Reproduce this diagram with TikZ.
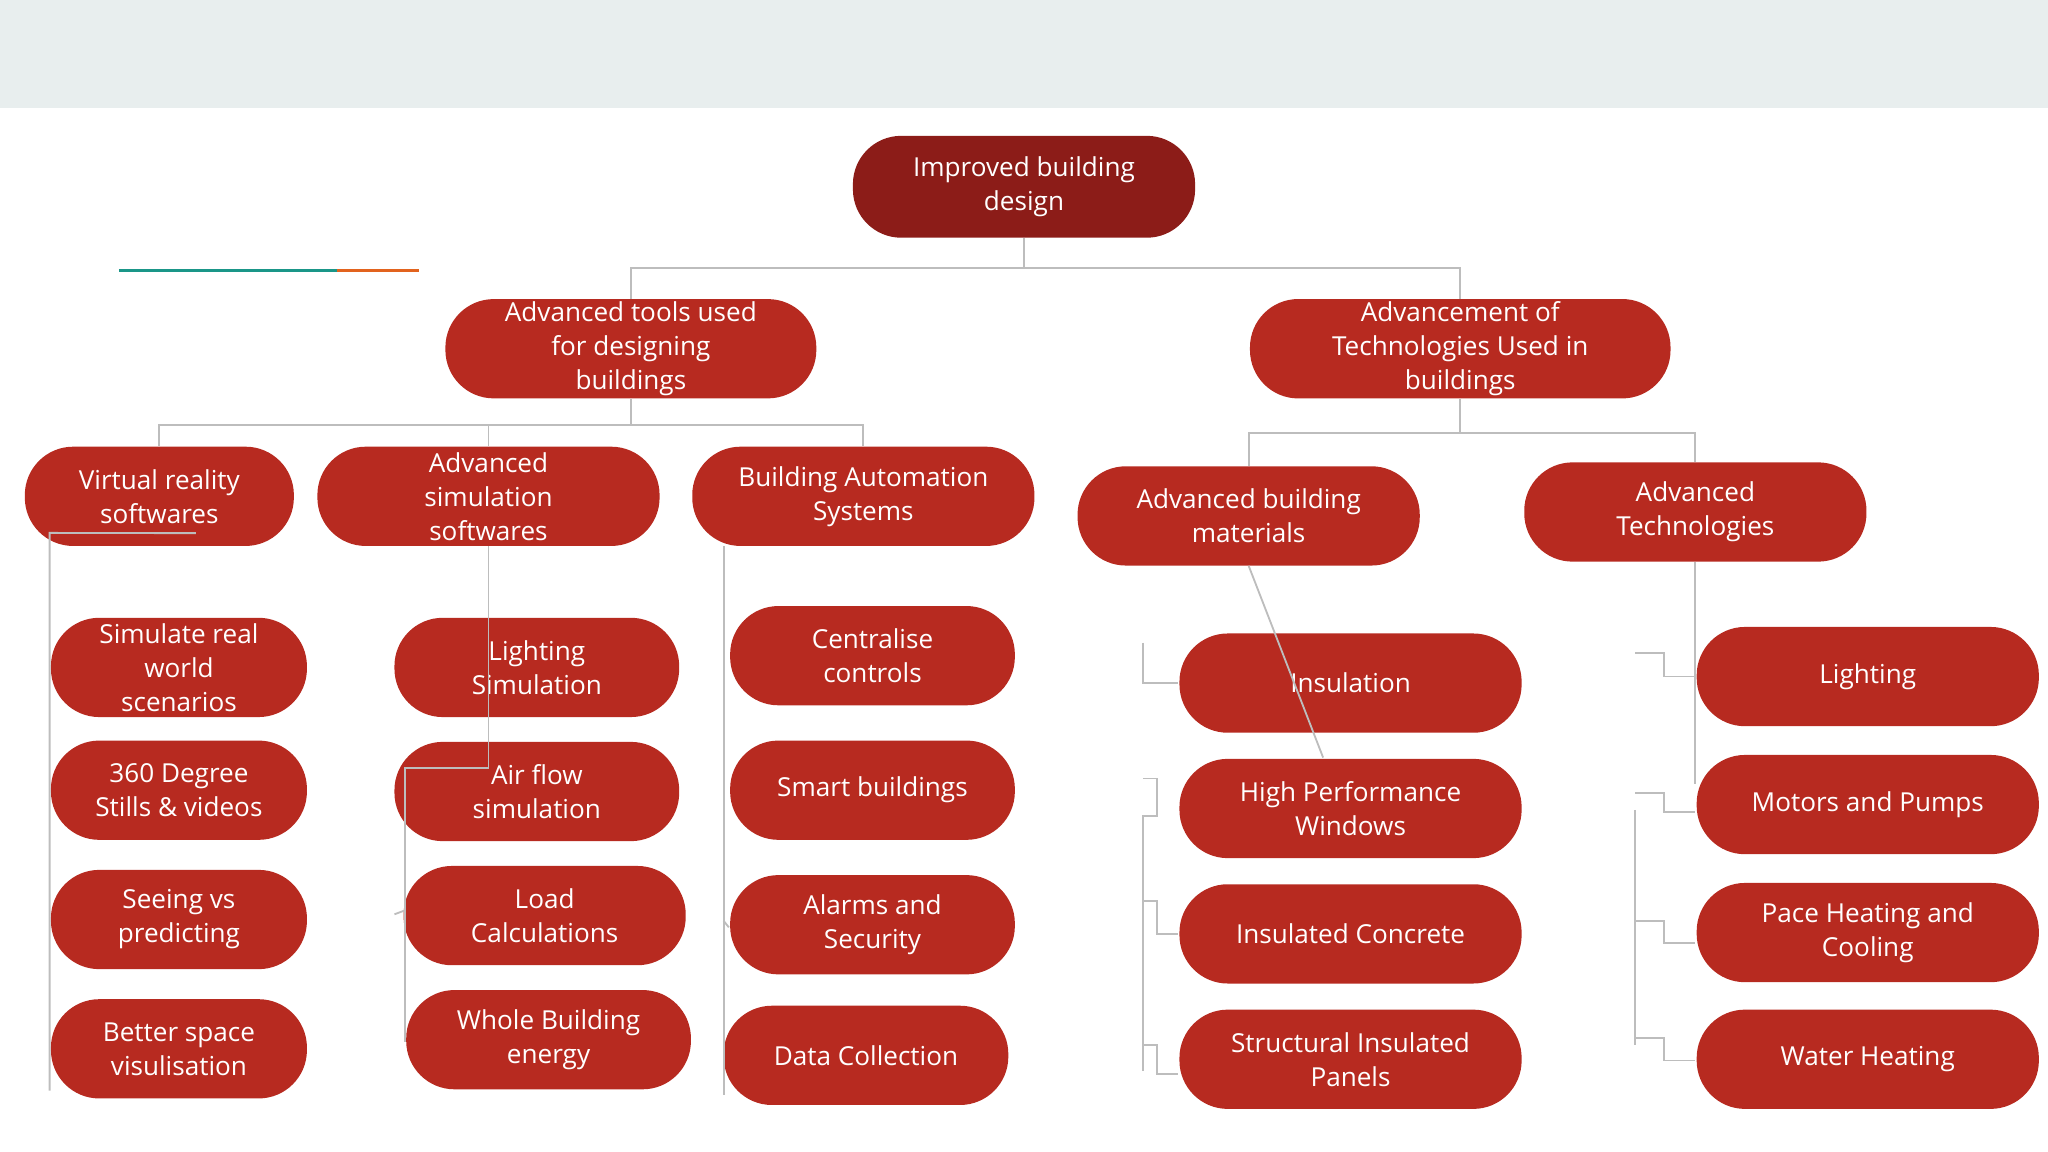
\documentclass[tikz,border=0pt]{standalone}
\usepackage{fontspec}
\setmainfont{Open Sans}
\definecolor{nred}{HTML}{B72A20}
\definecolor{dred}{HTML}{8C1C18}
\definecolor{band}{HTML}{E8EEEE}
\definecolor{lnk}{HTML}{BDBDBD}
\definecolor{teal}{HTML}{1A9688}
\definecolor{orng}{HTML}{E2631E}
\begin{document}
\begin{tikzpicture}[x=1pt,y=-1pt,
  box/.style={fill=nred,text=white,rounded corners=37pt,minimum height=76pt,align=center,
    font=\fontsize{20}{26}\selectfont,inner sep=2pt},
  lk/.style={draw=lnk,line width=1.4pt}]
\useasboundingbox (0,0) rectangle (1568,882);
\fill[band] (0,0) rectangle (1568,83);
\draw[teal,line width=2.5pt] (91,207) -- (258,207);
\draw[orng,line width=2.5pt] (258,207) -- (321,207);
% nodes
\node[box,fill=dred,minimum width=262pt,minimum height=78pt] (top) at (784,143) {Improved building\\design};
\node[box,minimum width=284pt] (a1) at (483,267) {Advanced tools used\\for designing\\buildings};
\node[box,minimum width=322pt] (a2) at (1118,267) {Advancement of\\Technologies Used in\\buildings};
\node[box,minimum width=206pt] (vr) at (122,380) {Virtual reality\\softwares};
\node[box,minimum width=262pt] (as) at (374,380) {Advanced\\simulation\\softwares};
\node[box,minimum width=262pt] (ba) at (661,380) {Building Automation\\Systems};
\node[box,minimum width=262pt] (bm) at (956,395) {Advanced building\\materials};
\node[box,minimum width=262pt] (at) at (1298,392) {Advanced\\Technologies};
\foreach \n/\y/\t in {c1/511/{Simulate real\\world\\scenarios},c2/605/{360 Degree\\Stills \& videos},c3/704/{Seeing vs\\predicting},c4/803/{Better space\\visulisation}}
  \node[box,minimum width=196pt] (\n) at (137,\y) {\t};
\node[box,minimum width=218pt] (s1) at (411,511) {Lighting\\Simulation};
\node[box,minimum width=218pt] (s2) at (411,606) {Air flow\\simulation};
\node[box,minimum width=216pt] (s3) at (417,701) {Load\\Calculations};
\node[box,minimum width=218pt] (s4) at (420,796) {Whole Building\\energy};
\node[box,minimum width=218pt] (b1) at (668,502) {Centralise\\controls};
\node[box,minimum width=218pt] (b2) at (668,605) {Smart buildings};
\node[box,minimum width=218pt] (b3) at (668,708) {Alarms and\\Security};
\node[box,minimum width=218pt] (b4) at (663,808) {Data Collection};
\node[box,minimum width=262pt] (m1) at (1034,523) {Insulation};
\node[box,minimum width=262pt] (m2) at (1034,619) {High Performance\\Windows};
\node[box,minimum width=262pt] (m3) at (1034,715) {Insulated Concrete};
\node[box,minimum width=262pt] (m4) at (1034,811) {Structural Insulated\\Panels};
\node[box,minimum width=262pt] (t1) at (1430,518) {Lighting};
\node[box,minimum width=262pt] (t2) at (1430,616) {Motors and Pumps};
\node[box,minimum width=262pt] (t3) at (1430,714) {Pace Heating and\\Cooling};
\node[box,minimum width=262pt] (t4) at (1430,811) {Water Heating};
% connectors
\draw[lk] (top.south) -- ++(0,23) -| (a1.north);
\draw[lk] (top.south) ++(0,23) -| (a2.north);
\draw[lk] (a1.south) -- ++(0,20) -| (vr.north);
\draw[lk] (a1.south) ++(0,20) -| (as.north);
\draw[lk] (a1.south) ++(0,20) -| (ba.north);
\draw[lk] (a2.south) -- ++(0,26) -| (bm.north);
\draw[lk] (a2.south) ++(0,26) -| (at.north);
\draw[lk] (vr.south) ++(28,-10) -- (38,408) -- (38,835);
\draw[lk] (as.south) -- (374,588) -- (310,588) -- (310,798);
\draw[lk] (310,697) -- (302,700);
\draw[lk] (ba.south -| 554,0) ++(0,0) (554,418) -- (554,838);
\draw[lk] (554,705) -- (558,710);
\draw[lk] (bm.south) -- (1013,580);
\draw[lk] (875,492) -- (875,523) -- (902,523);
\draw[lk] (875,596) -- (886,596) -- (886,625) -- (875,625) -- (875,820);
\draw[lk] (875,690) -- (886,690) -- (886,715) -- (902,715);
\draw[lk] (875,800) -- (886,800) -- (886,822) -- (902,822);
\draw[lk] (at.south) -- (1298,600);
\draw[lk] (1252,500) -- (1274,500) -- (1274,518) -- (1298,518);
\draw[lk] (1252,607) -- (1274,607) -- (1274,622) -- (1298,622);
\draw[lk] (1252,620) -- (1252,800);
\draw[lk] (1252,705) -- (1274,705) -- (1274,722) -- (1298,722);
\draw[lk] (1252,795) -- (1274,795) -- (1274,812) -- (1298,812);
\end{tikzpicture}
\end{document}
